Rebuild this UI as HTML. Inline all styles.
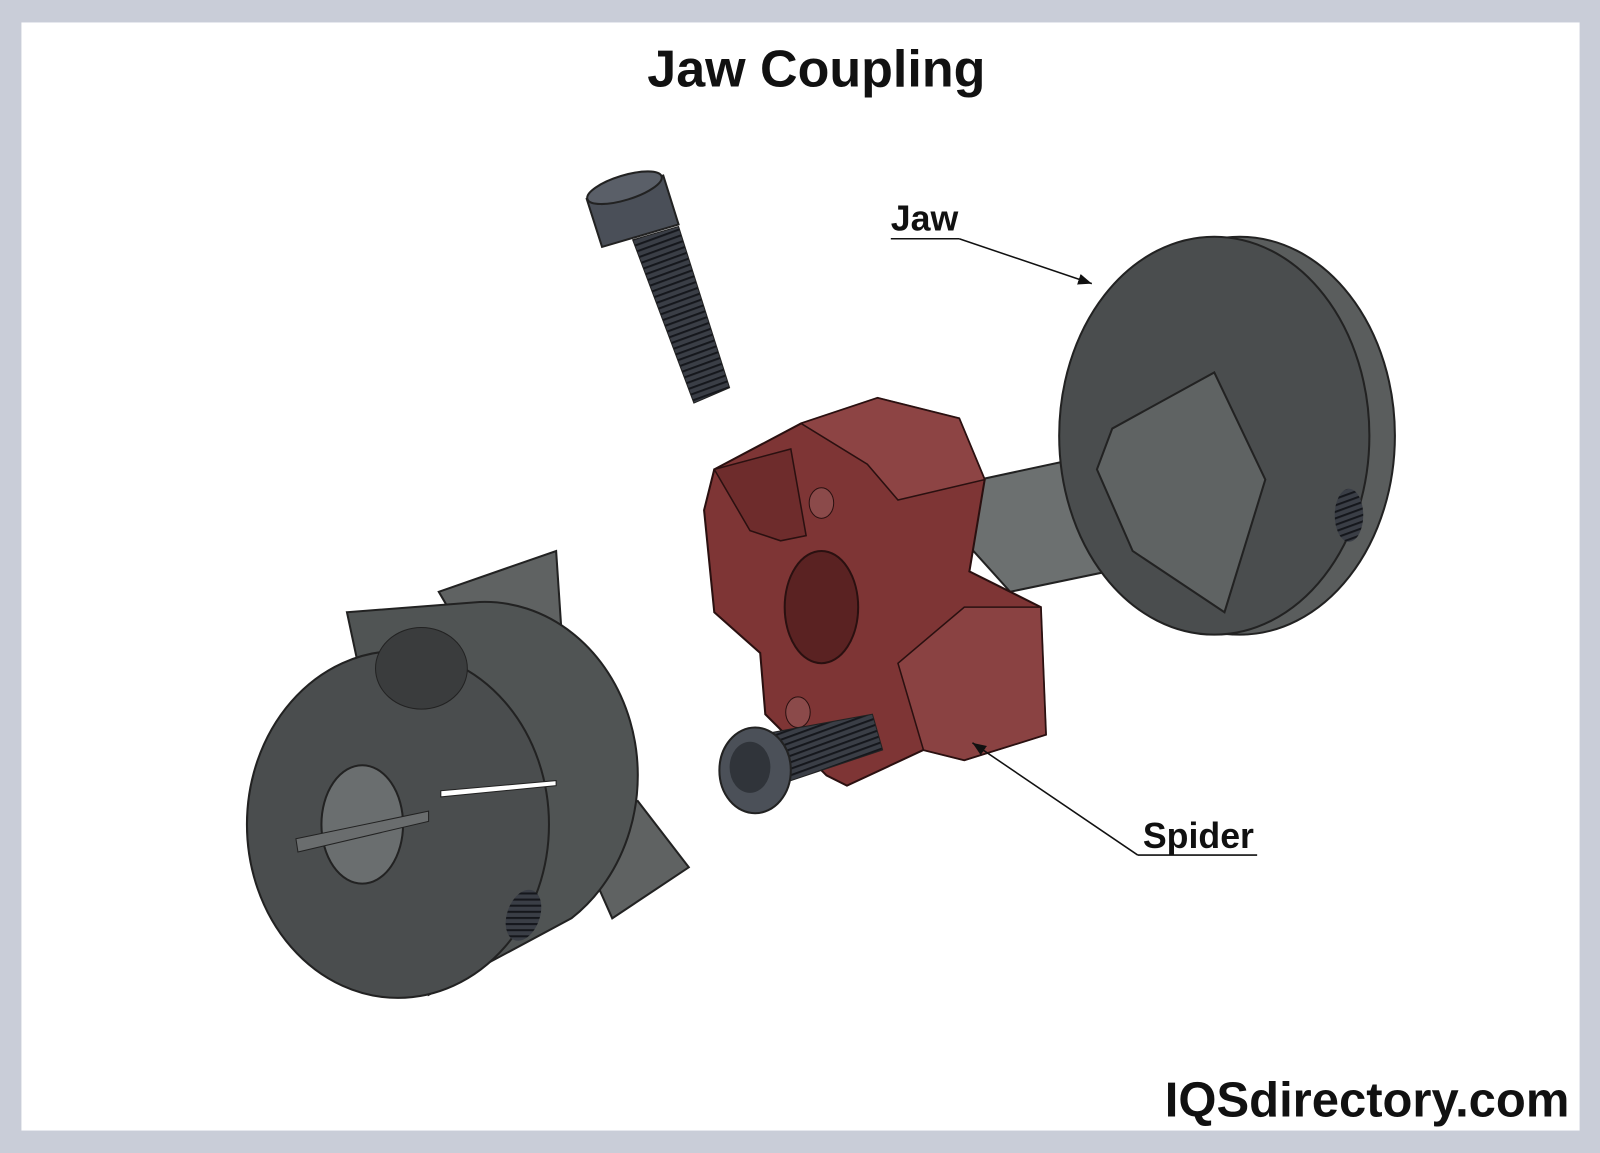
<!DOCTYPE html>
<html><head><meta charset="utf-8"><style>
html,body{margin:0;padding:0;background:#fff}
svg{display:block}
text{font-family:"Liberation Sans",Arial,sans-serif;font-weight:bold;fill:#111}
</style></head><body>
<svg width="1600" height="1153" viewBox="0 0 1568 1130" preserveAspectRatio="none" xmlns="http://www.w3.org/2000/svg">
<defs>
<marker id="ar" viewBox="0 0 10 10" refX="10" refY="5" markerWidth="9" markerHeight="9" orient="auto"><path d="M0,1 L10,5 L0,9 z" fill="#111"/></marker>
<pattern id="thr" width="6" height="6" patternUnits="userSpaceOnUse" patternTransform="rotate(-20)"><rect width="6" height="6" fill="#3a3e46"/><rect width="6" height="2" fill="#15171c"/></pattern>
</defs>
<rect x="0" y="0" width="1568" height="1130" fill="#c9cdd8"/>
<rect x="21" y="22" width="1527" height="1086" fill="#fff"/>
<text x="800" y="85" font-size="51" text-anchor="middle">Jaw Coupling</text>

<!-- right jaw -->
<path d="M1100,440 L960,470 L945,530 L990,580 L1110,555 Z" fill="#6c7070" stroke="#222" stroke-width="2"/>
<ellipse cx="1215" cy="427" rx="152" ry="195" fill="#5a5d5d" stroke="#222" stroke-width="2"/>
<ellipse cx="1190" cy="427" rx="152" ry="195" fill="#4a4d4e" stroke="#222" stroke-width="2"/>
<path d="M1090,420 L1190,365 L1240,470 L1200,600 L1110,540 L1075,460 Z" fill="#5f6363" stroke="#222" stroke-width="2"/>
<ellipse cx="1322" cy="505" rx="14" ry="26" fill="url(#thr)"/>

<!-- spider -->
<path d="M700,460 L785,415 L860,390 L940,410 L965,470 L950,560 L1020,595 L1025,720 L945,745 L905,735 L830,770 L810,760 L750,700 L745,640 L700,600 L690,500 Z" fill="#7e3535" stroke="#2a1010" stroke-width="2"/>
<path d="M785,415 L860,390 L940,410 L965,470 L880,490 L850,455 Z" fill="#8d4444" stroke="#2a1010" stroke-width="1.5"/>
<path d="M945,595 L1020,595 L1025,720 L945,745 L905,735 L880,650 Z" fill="#8a4242" stroke="#2a1010" stroke-width="1.5"/>
<path d="M700,460 L775,440 L790,525 L765,530 L735,520 Z" fill="#6e2c2c" stroke="#2a1010" stroke-width="1.5"/>
<ellipse cx="805" cy="595" rx="36" ry="55" fill="#5a2222" stroke="#2a1010" stroke-width="2"/>
<ellipse cx="805" cy="493" rx="12" ry="15" fill="#8b4a4a" stroke="#2a1010"/>
<ellipse cx="782" cy="698" rx="12" ry="15" fill="#8b4a4a" stroke="#2a1010"/>

<!-- small bolt -->
<path d="M745,720 L855,700 L865,735 L760,770 Z" fill="url(#thr)" stroke="#222"/>
<ellipse cx="740" cy="755" rx="35" ry="42" fill="#4b5058" stroke="#222" stroke-width="2"/>
<ellipse cx="735" cy="752" rx="20" ry="25" fill="#30343a"/>

<!-- top bolt -->
<path d="M620,235 L665,222 L715,380 L680,395 Z" fill="url(#thr)" stroke="#222"/>
<path d="M575,195 L650,172 L665,220 L590,242 Z" fill="#4a4f58" stroke="#222" stroke-width="2"/>
<ellipse cx="612" cy="184" rx="38" ry="12" transform="rotate(-17 612 184)" fill="#5a5f68" stroke="#222" stroke-width="2"/>

<!-- left hub -->
<path d="M430,580 L545,540 L550,615 L465,640 Z" fill="#5f6262" stroke="#222" stroke-width="2"/>
<path d="M560,810 L625,785 L675,850 L600,900 Z" fill="#5f6262" stroke="#222" stroke-width="2"/>
<path d="M340,600 L470,590 A150,170 0 0 1 560,900 L420,975 Z" fill="#505454" stroke="#222" stroke-width="2"/>
<ellipse cx="390" cy="808" rx="148" ry="170" fill="#4a4d4e" stroke="#222" stroke-width="2"/>
<ellipse cx="413" cy="655" rx="45" ry="40" fill="#3a3c3d" stroke="#222"/>
<ellipse cx="355" cy="808" rx="40" ry="58" fill="#6a6e6f" stroke="#222" stroke-width="2"/>
<path d="M290,822 L420,795 L420,805 L292,835 Z" fill="#6a6d6e" stroke="#222"/>
<path d="M432,775 L545,765 L545,770 L432,781 Z" fill="#fff" stroke="#222"/>
<ellipse cx="513" cy="897" rx="16" ry="26" transform="rotate(20 513 897)" fill="url(#thr)"/>

<!-- labels -->
<text x="873" y="226" font-size="35">Jaw</text>
<line x1="873" y1="234" x2="940" y2="234" stroke="#111" stroke-width="1.5"/>
<line x1="940" y1="234" x2="1070" y2="278" stroke="#111" stroke-width="1.5" marker-end="url(#ar)"/>
<text x="1120" y="831" font-size="35">Spider</text>
<line x1="1115" y1="838" x2="1232" y2="838" stroke="#111" stroke-width="1.5"/>
<line x1="1115" y1="838" x2="953" y2="728" stroke="#111" stroke-width="1.5" marker-end="url(#ar)"/>
<text x="1538" y="1094" font-size="48" text-anchor="end">IQSdirectory.com</text>
</svg>
</body></html>
